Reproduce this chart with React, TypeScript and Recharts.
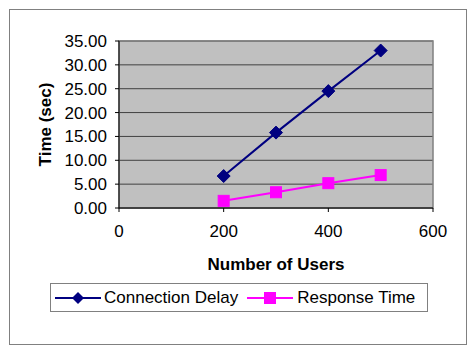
import React from 'react';
import {
  LineChart,
  Line,
  XAxis,
  YAxis,
  CartesianGrid,
  Legend,
  ReferenceArea,
} from 'recharts';

const users = [200, 300, 400, 500];
const connectionDelay = [6.7, 15.8, 24.5, 33.0];
const responseTime = [1.5, 3.3, 5.2, 6.9];
const xTicks = [0, 200, 400, 600];
const yTicks = [0, 5, 10, 15, 20, 25, 30, 35];

const data = users.map((u, i) => ({
  users: u,
  connectionDelay: connectionDelay[i],
  responseTime: responseTime[i],
}));

const FONT = '"Liberation Sans", Arial, sans-serif';
const NAVY = '#000080';
const MAGENTA = '#FF00FF';

const Diamond = (props: any) => {
  const { cx, cy } = props;
  if (cx == null || cy == null) return null;
  const r = 6.5;
  return (
    <path
      d={`M${cx},${cy - r}L${cx + r},${cy}L${cx},${cy + r}L${cx - r},${cy}Z`}
      fill={NAVY}
      stroke={NAVY}
      strokeWidth={1}
    />
  );
};

const Square = (props: any) => {
  const { cx, cy } = props;
  if (cx == null || cy == null) return null;
  const h = 5.5;
  return <rect x={cx - h} y={cy - h} width={2 * h} height={2 * h} fill={MAGENTA} stroke={MAGENTA} />;
};

const renderLegend = () => (
  <div
    style={{
      boxSizing: 'border-box',
      width: 378,
      height: 29,
      border: '1px solid #808080',
      background: '#fff',
      display: 'flex',
      alignItems: 'center',
      fontFamily: FONT,
      fontSize: 17,
      color: '#000',
      paddingLeft: 4,
    }}
  >
    <svg width={46} height={16} style={{ marginRight: 3 }}>
      <line x1={0} y1={8} x2={46} y2={8} stroke={NAVY} strokeWidth={2} />
      <path d="M23,2L29,8L23,14L17,8Z" fill={NAVY} />
    </svg>
    <span style={{ marginRight: 9 }}>Connection Delay</span>
    <svg width={46} height={16} style={{ marginRight: 4 }}>
      <line x1={0} y1={8} x2={46} y2={8} stroke={MAGENTA} strokeWidth={2} />
      <rect x={17} y={2} width={12} height={12} fill={MAGENTA} />
    </svg>
    <span>Response Time</span>
  </div>
);

export default function App() {
  return (
    <div style={{ position: 'absolute', left: 0, top: 0, width: 474, height: 353, background: '#fff' }}>
      <div
        style={{
          position: 'absolute',
          left: 9,
          top: 9,
          width: 456,
          height: 334,
          border: '1px solid #808080',
        }}
      />
      <div style={{ position: 'absolute', left: 0, top: 0 }}>
        <LineChart
          width={474}
          height={353}
          data={data}
          margin={{ top: 41, right: 41, bottom: 80, left: 0 }}
        >
          <CartesianGrid
            vertical={false}
            fill="#C0C0C0"
            stroke="#404040"
            strokeWidth={1}
            fillOpacity={1}
          />
          <ReferenceArea
            x1={0}
            x2={600}
            y1={0}
            y2={35}
            fill="none"
            stroke="#808080"
            strokeWidth={1.5}
            ifOverflow="visible"
          />
          <XAxis
            dataKey="users"
            type="number"
            domain={[0, 600]}
            ticks={xTicks}
            interval={0}
            height={65}
            tickSize={4}
            tickMargin={13}
            axisLine={{ stroke: '#000', strokeWidth: 1 }}
            tickLine={{ stroke: '#000' }}
            tick={{ fill: '#000', fontSize: 17, fontFamily: FONT }}
            label={{
              value: 'Number of Users',
              position: 'insideBottom',
              offset: 3,
              style: { fill: '#000', fontSize: 17, fontWeight: 'bold', fontFamily: FONT },
            }}
          />
          <YAxis
            type="number"
            domain={[0, 35]}
            ticks={yTicks}
            interval={0}
            width={119}
            tickSize={4}
            tickMargin={8}
            tickFormatter={(v: number) => v.toFixed(2)}
            axisLine={{ stroke: '#000', strokeWidth: 1 }}
            tickLine={{ stroke: '#000' }}
            tick={{ fill: '#000', fontSize: 17, fontFamily: FONT }}
            label={{
              value: 'Time (sec)',
              angle: -90,
              position: 'insideLeft',
              offset: 45,
              style: { fill: '#000', fontSize: 17, fontWeight: 'bold', fontFamily: FONT, textAnchor: 'middle' },
            }}
          />
          <Line
            type="linear"
            dataKey="connectionDelay"
            name="Connection Delay"
            stroke={NAVY}
            strokeWidth={2}
            dot={<Diamond />}
            activeDot={false}
            isAnimationActive={false}
          />
          <Line
            type="linear"
            dataKey="responseTime"
            name="Response Time"
            stroke={MAGENTA}
            strokeWidth={2}
            dot={<Square />}
            activeDot={false}
            isAnimationActive={false}
          />
          <Legend
            layout="horizontal"
            verticalAlign="middle"
            align="center"
            content={renderLegend}
            wrapperStyle={{ top: 283, left: 50, width: 378, height: 29 }}
          />
        </LineChart>
      </div>
    </div>
  );
}
